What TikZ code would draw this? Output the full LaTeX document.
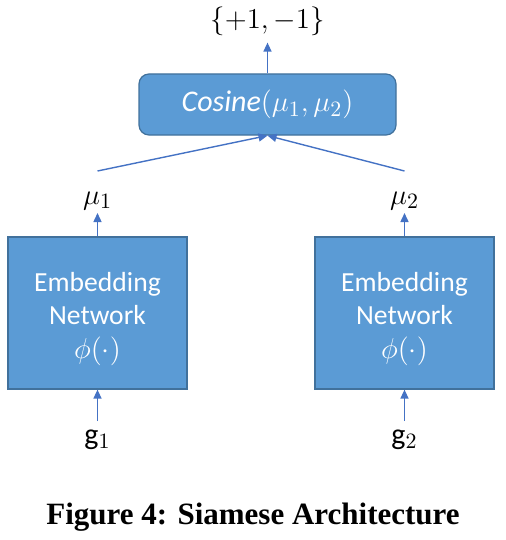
\documentclass[tikz,border=0pt]{standalone}
\usepackage{fontspec}
\setmainfont{Carlito}
\newfontfamily\capfont{Liberation Serif}
\usepackage{xcolor}
\usetikzlibrary{arrows.meta, positioning, calc}
\definecolor{boxfill}{HTML}{5B9BD5}
\definecolor{boxline}{HTML}{41719C}
\definecolor{arrowblue}{HTML}{4472C4}
\newcommand{\embtext}{\raisebox{-2.5pt}[\height][\depth]{\begin{tabular}{@{}c@{}}Embedding\\Network\\$\phi(\cdot)$\end{tabular}}}

\begin{document}
\begin{tikzpicture}[x=0.5pt, y=-0.5pt,
    netbox/.style={draw=boxline, fill=boxfill, line width=0.6pt, minimum width=89.5pt, minimum height=76pt,
        text=white, font=\fontsize{13.8}{16.8}\selectfont},
    simbox/.style={draw=boxline, fill=boxfill, line width=0.6pt, rounded corners=5pt,
        minimum width=128.5pt, minimum height=30.5pt, text=white, font=\fontsize{15}{18}\selectfont},
    lbl/.style={font=\fontsize{15}{17}\selectfont, inner sep=1.5pt},
    arr/.style={draw=arrowblue, line width=0.7pt, -{Triangle[length=4.5pt, width=4pt]}}]
    \useasboundingbox (0,0) rectangle (506,540);

    % Networks
    \node[netbox] (emb1) at (97.5,313) {\embtext};
    \node[netbox] (emb2) at (404.5,313) {\embtext};

    % Inputs
    \node[lbl, inner sep=4pt, anchor=base] (g1) at (97.5,444) {$\mathrm{g}_1$};
    \node[lbl, inner sep=4pt, anchor=base] (g2) at (404.5,444) {$\mathrm{g}_2$};

    % Embeddings
    \node[lbl, anchor=base] (mu1) at (97.5,204) {$\mu_1$};
    \node[lbl, anchor=base] (mu2) at (404.5,204) {$\mu_2$};
    \coordinate (s1) at (97.5,171);
    \coordinate (s2) at (404.5,171);

    % Similarity
    \node[simbox] (cos) at (267.5,104.5) {$\mathit{Cosine}(\mu_1,\mu_2)$};
    \node[lbl, inner sep=3pt, anchor=base] (out) at (267.5,29) {$\{+1,-1\}$};

    \draw[arr] (g1) -- (emb1);
    \draw[arr] (g2) -- (emb2);
    \draw[arr] (emb1) -- (mu1);
    \draw[arr] (emb2) -- (mu2);
    \draw[arr] (s1) -- (cos.south);
    \draw[arr] (s2) -- (cos.south);
    \draw[arr] (cos) -- (out);

    % Caption
    \node[font=\capfont\bfseries\fontsize{15.5}{18}\selectfont] (cap) at (253,517) {Figure 4: Siamese Architecture};
\end{tikzpicture}
\end{document}
